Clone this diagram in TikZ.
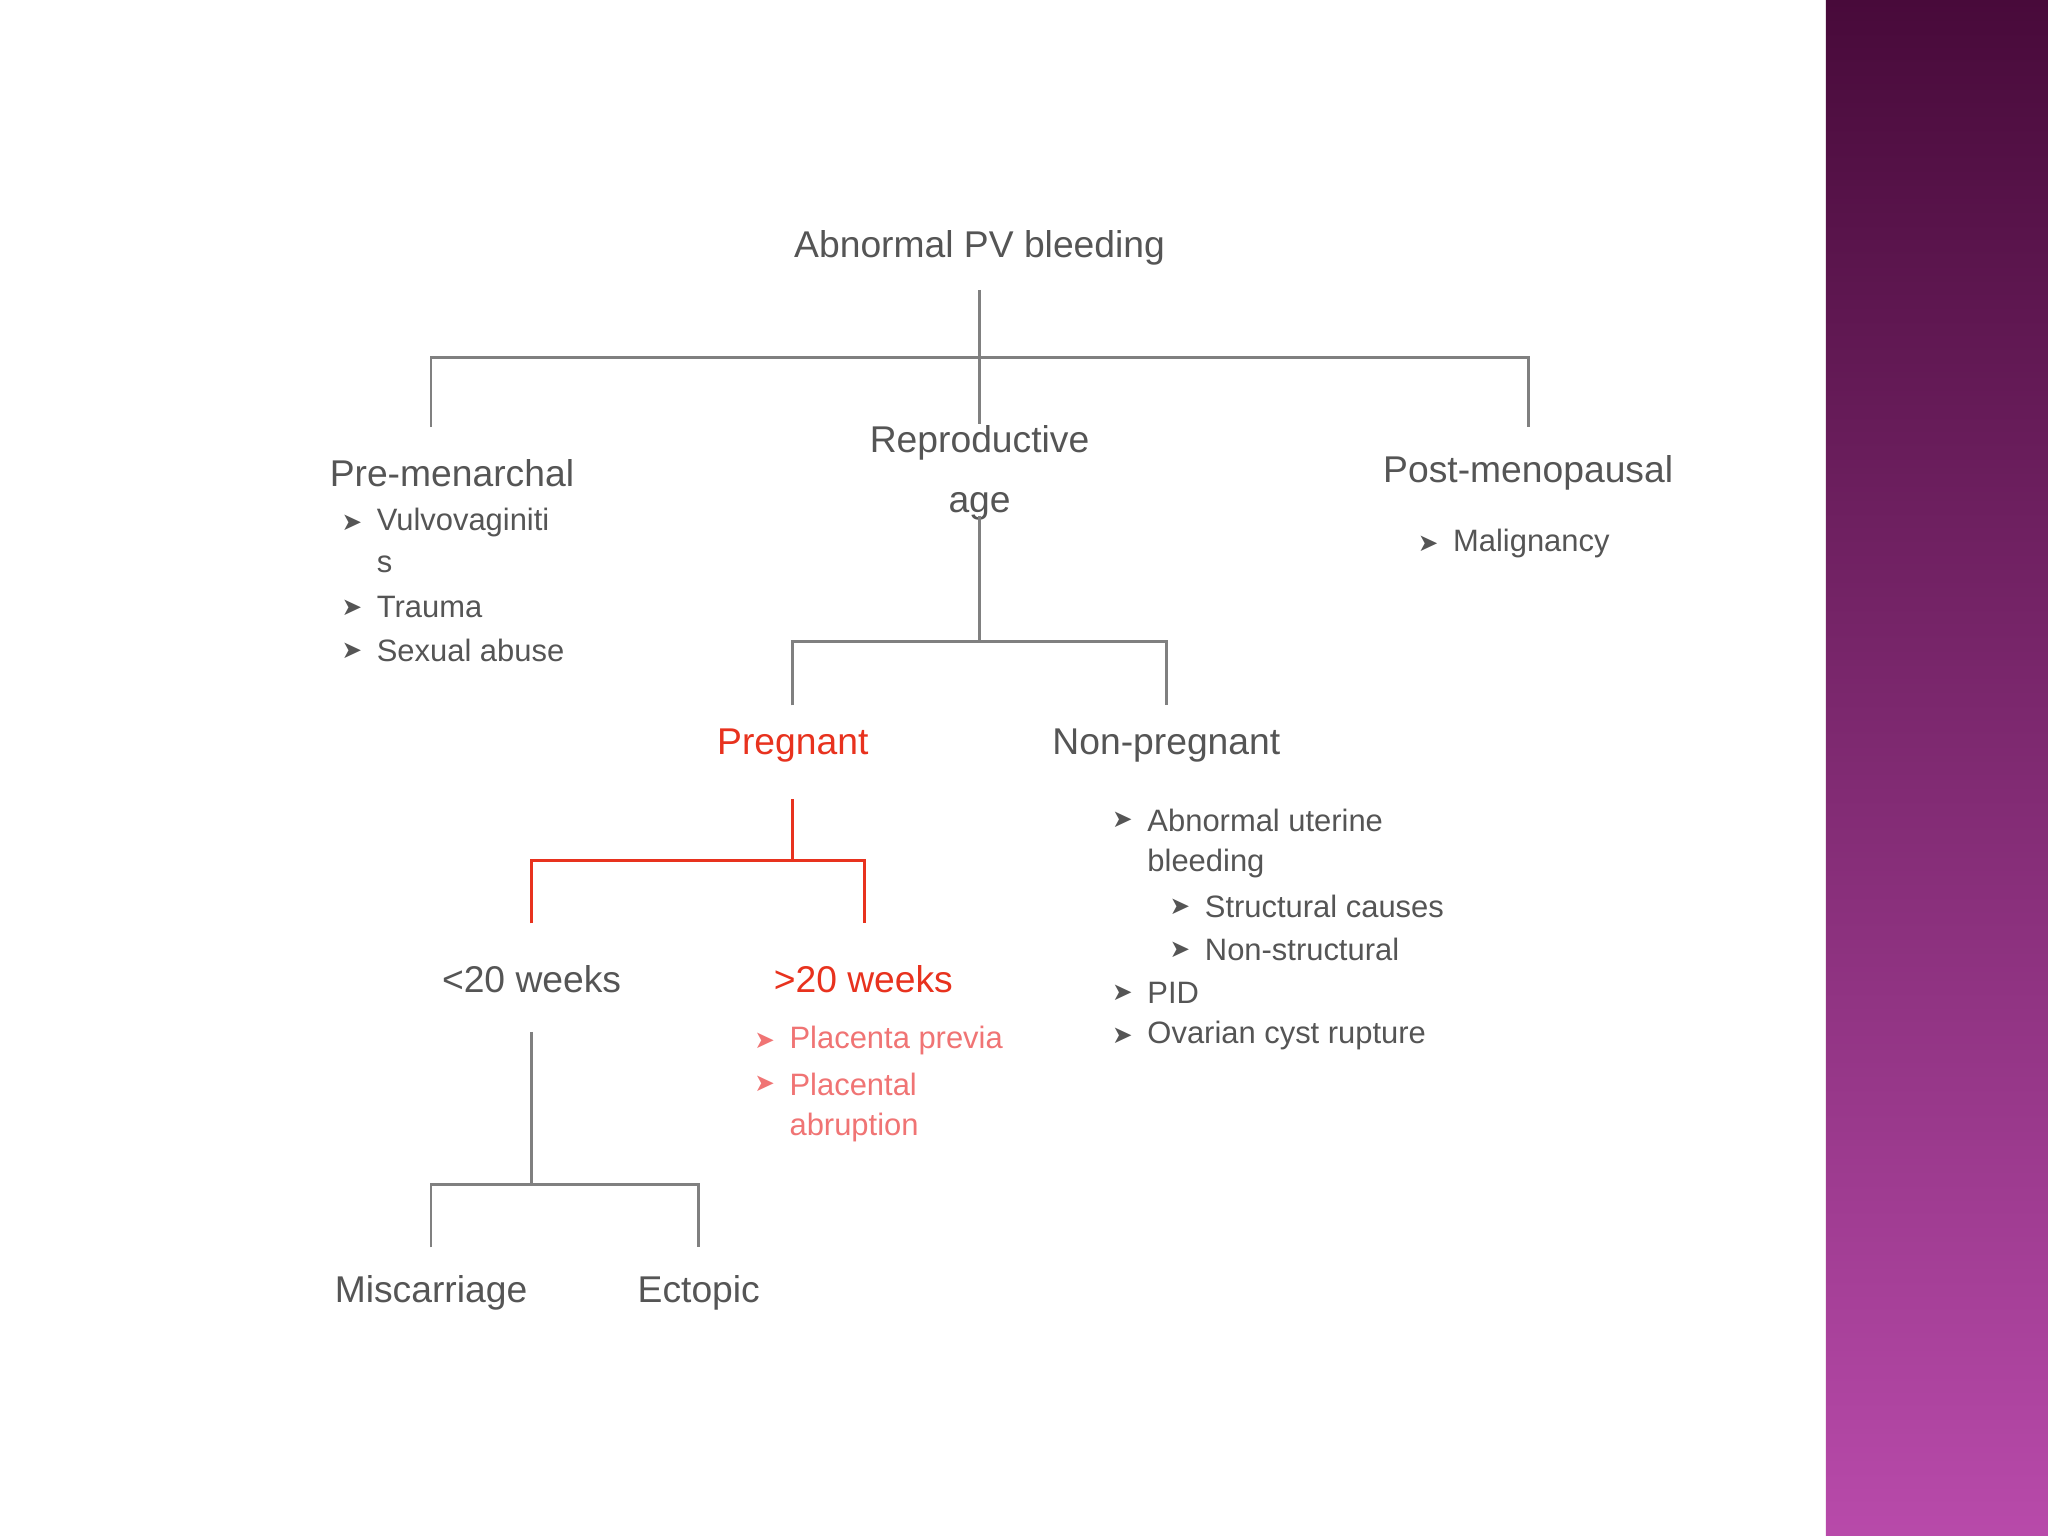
\documentclass[tikz,border=0pt]{standalone}
\usepackage{fontspec}
\setmainfont{Liberation Sans}
\newfontfamily\symf{DejaVu Sans}
\definecolor{txt}{HTML}{555555}
\definecolor{ln}{HTML}{808080}
\definecolor{rd}{HTML}{E8321E}
\definecolor{pk}{HTML}{F07474}
\begin{document}
\begin{tikzpicture}[x=0.013061cm,y=-0.013061cm,
  hd/.style={inner sep=0pt,text=txt,font=\fontsize{10.6}{12}\selectfont},
  li/.style={inner sep=0pt,anchor=west,text=txt,font=\fontsize{8.8}{10}\selectfont},
  bl/.style={inner sep=0pt,anchor=west,text=txt,font=\symf\fontsize{7}{8}\selectfont},
  cn/.style={draw=ln,line width=0.8pt},
  rc/.style={draw=rd,line width=0.8pt}]
\useasboundingbox (0,0) rectangle (1568,1176);
\fill[white] (0,0) rectangle (1398,1176);
\shade[top color={rgb,255:red,72;green,10;blue,58},bottom color={rgb,255:red,184;green,74;blue,170}] (1398,0) rectangle (1568,1176);
% headers
\node[hd] (root) at (750,190) {Abnormal PV bleeding};
\node[hd] (pre) at (346,362) {Pre-menarchal};
\node[hd,align=center] (rep) at (750,362) {Reproductive\\[5pt]age};
\node[hd] (post) at (1170,362) {Post-menopausal};
\node[hd,text=rd] (preg) at (607,571) {Pregnant};
\node[hd] (npreg) at (893,571) {Non-pregnant};
\node[hd] (lt) at (407,750) {<20 weeks};
\node[hd,text=rd] (gt) at (661,750) {>20 weeks};
\node[hd] (mis) at (330,990) {Miscarriage};
\node[hd] (ect) at (535,990) {Ectopic};
% coordinates
\coordinate (r1) at (750,222); \coordinate (r2) at (750,325);
\coordinate (b1) at (330,274); \coordinate (b2) at (1170,274);
\coordinate (b1d) at (330,327); \coordinate (b2d) at (1170,327);
\coordinate (p1) at (750,395); \coordinate (p2) at (750,491);
\coordinate (p3) at (607,491); \coordinate (p4) at (893,491);
\coordinate (p3d) at (607,540); \coordinate (p4d) at (893,540);
\coordinate (q1) at (607,612); \coordinate (q2) at (607,659);
\coordinate (q3) at (407,659); \coordinate (q4) at (662,659);
\coordinate (q3d) at (407,707); \coordinate (q4d) at (662,707);
\coordinate (s1) at (407,790); \coordinate (s2) at (407,907);
\coordinate (s3) at (330,907); \coordinate (s4) at (535,907);
\coordinate (s3d) at (330,955); \coordinate (s4d) at (535,955);
\draw[cn] (r1) -- (r2);
\draw[cn] (b1d) -- (b1) -- (b2) -- (b2d);
\draw[cn] (p1) -- (p2);
\draw[cn] (p3d) -- (p3) -- (p4) -- (p4d);
\draw[rc] (q1) -- (q2);
\draw[rc] (q3d) -- (q3) -- (q4) -- (q4d);
\draw[cn] (s1) -- (s2);
\draw[cn] (s3d) -- (s3) -- (s4) -- (s4d);
% lists
\node[bl] (a1) at (261,400) {➤}; \node[li] (a1t) at (288,400) {Vulvovaginiti};
\node[li] (a1u) at (288,432) {s};
\node[bl] (a2) at (261,465) {➤}; \node[li] (a2t) at (288,465) {Trauma};
\node[bl] (a3) at (261,498) {➤}; \node[li] (a3t) at (288,498) {Sexual abuse};
\node[bl] (m1) at (1085,416) {➤}; \node[li] (m1t) at (1112,416) {Malignancy};
\node[bl] (n1) at (851,628) {➤}; \node[li] (n1t) at (878,628) {Abnormal uterine};
\node[li] (n1u) at (878,661) {bleeding};
\node[bl] (n2) at (895,694) {➤}; \node[li] (n2t) at (922,694) {Structural causes};
\node[bl] (n3) at (895,727) {➤}; \node[li] (n3t) at (922,727) {Non-structural};
\node[bl] (n4) at (851,760) {➤}; \node[li] (n4t) at (878,760) {PID};
\node[bl] (n5) at (851,793) {➤}; \node[li] (n5t) at (878,793) {Ovarian cyst rupture};
\node[bl,text=pk] (g1) at (577,797) {➤}; \node[li,text=pk] (g1t) at (604,797) {Placenta previa};
\node[bl,text=pk] (g2) at (577,830) {➤}; \node[li,text=pk] (g2t) at (604,830) {Placental};
\node[li,text=pk] (g2u) at (604,863) {abruption};
\end{tikzpicture}
\end{document}
